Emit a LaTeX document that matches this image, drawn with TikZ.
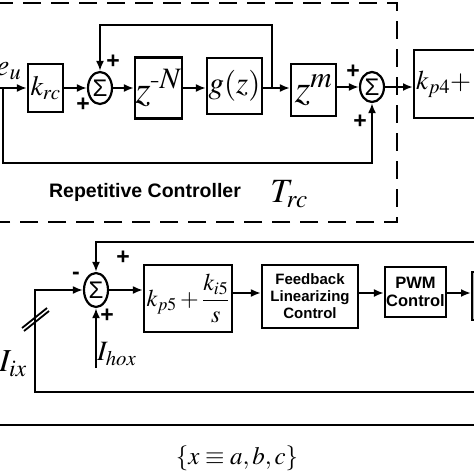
\documentclass[tikz,border=0pt]{standalone}
\usepackage{amsmath}
\usepackage{mathptmx}
\usepackage[no-math]{fontspec}
\setsansfont{Liberation Sans}
\usetikzlibrary{positioning,arrows.meta,shapes.geometric}

\newcommand{\fs}[1]{\fontsize{#1}{#1}\selectfont}

\begin{document}
\begin{tikzpicture}[x=1pt, y=-1pt,
    blk/.style={draw, line width=2.2pt, inner sep=0pt, align=center},
    sumn/.style={draw, ellipse, line width=2.2pt, minimum width=24pt, minimum height=32pt, inner sep=0pt, font=\sffamily\fs{24}},
    sig/.style={-{Latex[length=10pt,width=8pt]}, line width=2.2pt},
    wire/.style={line width=2.2pt},
    sgn/.style={font=\sffamily\bfseries\fs{23}, inner sep=0pt},
    lbl/.style={font=\sffamily\bfseries\fs{15}, align=center},
    frame/.style={line width=2pt, dash pattern=on 18pt off 10pt}]
  \clip (0,0) rectangle (474,474);
  % Repetitive controller
  \node[blk, minimum width=35pt, minimum height=48pt, font=\fs{28}] (krc) at (45.5,88) {$k_{rc}$};
  \node[sumn] (sum1) at (100,88) {Σ};
  \node[blk, minimum width=47pt, minimum height=61pt, font=\fs{40}] (zN) at (158.5,88) {$z^{\text{-}N}$};
  \node[blk, minimum width=55pt, minimum height=56pt, font=\fs{31}] (gz) at (234.5,86) {$g(z)$};
  \node[blk, minimum width=45pt, minimum height=52pt, font=\fs{40}] (zm) at (313.5,90) {$z^{m}$};
  \node[sumn, minimum height=30pt] (sum2) at (372,87) {Σ};
  \node[blk, minimum width=90pt, minimum height=68pt, anchor=west, text width=86pt, align=left, font=\fs{27}] (kp4) at (413,84) {$k_{p4}+$};
  \coordinate (eu) at (-5,88);
  \coordinate (br1) at (3,88);
  \coordinate (tap) at (272,88);
  \draw[sig] (eu) -- (krc);
  \draw[sig] (krc) -- (sum1);
  \draw[sig] (sum1) -- (zN);
  \draw[sig] (zN) -- (zN -| gz.west);
  \draw[sig] (gz.east |- tap) -- (tap) -- (tap -| zm.west);
  \draw[sig] (tap) -- (272,25) -| (sum1.north);
  \draw[sig] (zm.east |- sum2) -- (sum2);
  \draw[sig] (br1) -- (3,163) -| (sum2.south);
  \draw[sig] (sum2) -- (sum2 -| kp4.west);
  \node[sgn] at (113,62) {+};
  \node[sgn] at (83,105) {+};
  \node[sgn] at (353,72) {+};
  \node[sgn] at (360,122) {+};
  \node[anchor=west, inner sep=0pt, font=\fs{30}] (eulbl) at (-4,71) {$e_u$};
  \node[font=\sffamily\bfseries\fs{19.5}] (rclbl) at (145,192) {Repetitive Controller};
  \node[font=\fs{34}] (trc) at (289,194) {$T_{rc}$};
  \draw[frame] (-5,3) -- (397,3) -- (397,222) -- (-5,222);
  % Current loop
  \node[sumn, minimum height=34pt] (sum3) at (96,290) {Σ};
  \node[blk, minimum width=88pt, minimum height=67pt, font=\fs{24}] (pi5) at (188,298.5) {$k_{p5}+\dfrac{k_{i5}}{s}$};
  \node[blk, lbl, minimum width=96pt, minimum height=63pt] (fbl) at (310,296.5) {Feedback\\[2pt]Linearizing\\[2pt]Control};
  \node[blk, lbl, font=\sffamily\bfseries\fs{16.5}, minimum width=61pt, minimum height=50pt] (pwm) at (415.5,292) {PWM\\[1pt]Control};
  \node[blk, minimum width=40pt, minimum height=48pt, anchor=west, fill=black!30] (inv) at (471,296) {};
  \coordinate (fbR) at (480,242);
  \coordinate (fbB) at (480,392);
  \coordinate (ix) at (35,392);
  \coordinate (hox) at (96,368);
  \draw[sig] (fbR) -| (sum3.north);
  \draw[sig] (fbB) -- (ix) |- (sum3.west);
  \draw[sig] (hox) -- (sum3.south);
  \draw[sig] (sum3.east) -- (sum3.east -| pi5.west);
  \draw[sig] (pi5.east |- 0,293) -- (fbl.west |- 0,293);
  \draw[sig] (fbl.east |- 0,293) -- (pwm.west |- 0,293);
  \draw[sig] (pwm.east |- 0,293) -- (inv.west |- 0,293);
  \draw[line width=1.8pt] (22,328) -- (47,308);
  \draw[line width=1.8pt] (24,331) -- (49,311);
  \node[sgn] at (76,276) {-};
  \node[sgn] at (123,258) {+};
  \node[sgn] at (107,316) {+};
  \node[anchor=west, inner sep=0pt, font=\fs{32}] (ixlbl) at (-1,364) {$I_{ix}$};
  \node[anchor=west, inner sep=0pt, font=\fs{28}] (hoxlbl) at (97,354) {$I_{hox}$};
  \draw[wire] (0,425) -- (474,425);
  \node[font=\fs{25}] (abc) at (237,458) {$\{x\equiv a,b,c\}$};
\end{tikzpicture}
\end{document}
